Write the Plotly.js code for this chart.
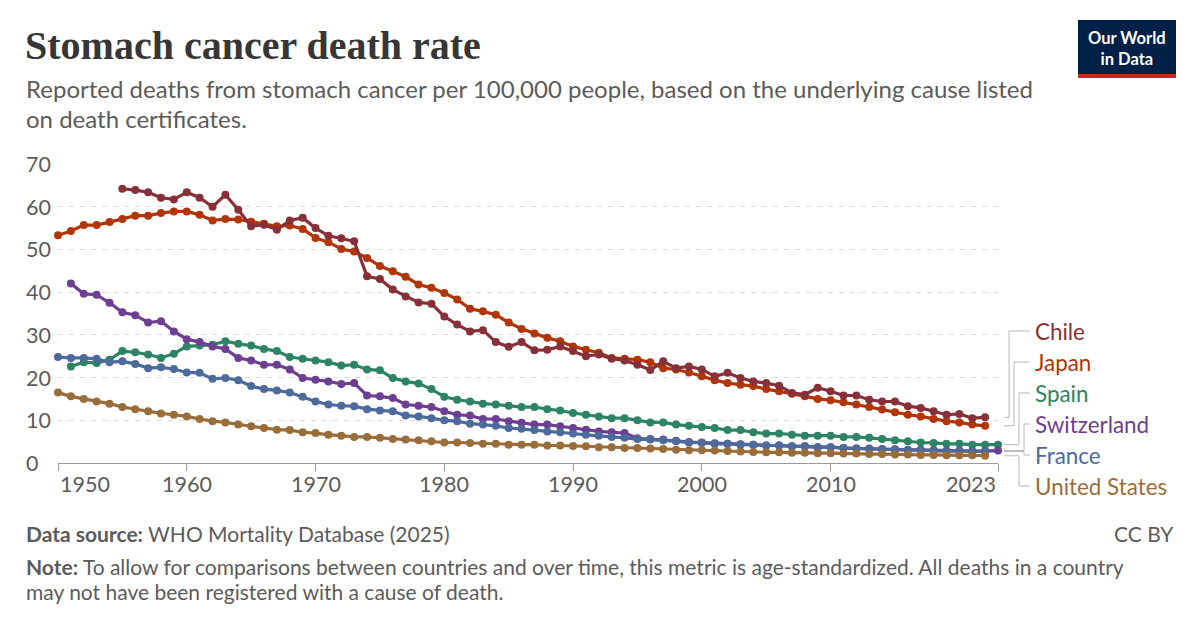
<!DOCTYPE html>
<html><head><meta charset="utf-8">
<script src="https://cdn.plot.ly/plotly-3.0.1.min.js"></script>
<style>html,body{margin:0;padding:0;background:#fff}#chart{width:1200px;height:627px}</style>
</head><body><div id="chart"></div>
<script>
// ---- data (deaths per 100,000, age-standardized) ----
const chileYears = Array.from({length: 68}, (_, i) => 1955 + i); // 1955-2022
const chile = [64.2,63.9,63.4,62.1,61.7,63.4,62.1,60.0,62.8,59.3,55.4,55.8,54.6,56.8,57.4,55.0,53.2,52.6,51.9,43.7,43.1,40.6,39.0,37.6,37.3,34.3,32.4,30.8,31.1,28.3,27.2,28.3,26.4,26.5,27.3,26.2,25.0,25.4,24.4,24.0,23.0,21.8,23.8,22.2,22.6,21.9,20.3,21.1,19.9,19.1,18.7,18.1,16.4,16.0,17.6,16.8,15.8,15.8,14.8,14.4,14.4,13.3,12.9,12.1,11.3,11.5,10.5,10.7];
const japanYears = Array.from({length: 73}, (_, i) => 1950 + i); // 1950-2022
const japan = [53.3,54.3,55.7,55.7,56.4,57.1,57.9,57.9,58.5,58.9,58.9,58.1,56.8,57.1,57.0,56.5,56.0,55.4,55.6,54.8,52.7,51.7,50.1,49.5,48.0,46.1,44.9,43.6,41.8,41.0,39.8,38.3,36.1,35.5,34.7,32.9,31.4,30.3,29.3,28.5,27.3,26.5,25.8,24.6,24.4,24.2,23.6,22.2,21.9,21.2,20.3,19.4,18.7,18.3,18.0,17.3,16.8,16.2,15.6,15.0,14.7,14.2,13.7,13.1,12.5,11.9,11.3,10.9,10.3,9.8,9.5,9.0,8.7];
const spainYears = Array.from({length: 73}, (_, i) => 1951 + i); // 1951-2023
const spain = [22.6,23.6,23.4,24.2,26.2,25.9,25.4,24.6,25.6,27.3,27.5,27.7,28.5,27.9,27.5,26.7,26.2,24.8,24.4,24.0,23.6,22.8,23.0,21.9,21.7,19.9,19.1,18.6,17.3,15.5,14.8,14.4,13.9,13.7,13.4,13.1,13.1,12.6,12.3,11.7,11.3,10.9,10.5,10.5,10.0,9.5,9.5,9.0,8.7,8.4,8.2,7.7,7.7,7.2,6.9,6.9,6.6,6.4,6.4,6.4,6.1,6.1,5.9,5.6,5.3,5.1,4.8,4.7,4.5,4.5,4.3,4.3,4.3];
const switzerlandYears = Array.from({length: 73}, (_, i) => 1951 + i); // 1951-2023
const switzerland = [42.0,39.6,39.4,37.5,35.3,34.6,32.9,33.2,30.8,29.0,28.3,27.3,26.7,24.6,24.0,23.0,23.0,21.9,19.9,19.5,19.1,18.5,18.7,15.8,15.6,15.2,13.7,13.4,13.1,12.1,11.3,11.1,10.3,10.3,9.8,9.4,9.0,9.0,8.6,8.2,7.8,7.4,7.2,7.0,5.8,5.6,5.5,5.2,4.9,4.8,4.6,4.5,4.4,4.3,4.1,4.1,3.9,3.9,3.7,3.7,3.5,3.4,3.4,3.3,3.2,3.1,3.1,3.0,2.9,2.9,2.8,2.8,2.9];
const franceYears = Array.from({length: 73}, (_, i) => 1950 + i); // 1950-2022
const france = [24.8,24.6,24.6,24.4,23.6,23.8,23.2,22.2,22.4,22.0,21.2,21.1,19.7,19.9,19.4,18.0,17.3,17.0,16.5,15.5,14.4,13.7,13.4,13.3,12.6,12.3,12.1,11.1,10.9,10.5,10.0,9.8,9.2,9.0,8.7,8.2,8.0,7.7,7.4,7.2,6.9,6.6,6.4,6.1,5.9,5.6,5.5,5.3,5.1,4.8,4.7,4.5,4.5,4.3,4.3,4.1,4.1,3.9,3.9,3.7,3.7,3.5,3.4,3.3,3.2,3.1,3.0,3.0,2.9,2.8,2.8,2.7,2.7];
const usYears = Array.from({length: 73}, (_, i) => 1950 + i); // 1950-2022
const unitedStates = [16.5,15.6,15.0,14.4,13.9,13.1,12.6,12.1,11.6,11.3,10.9,10.3,9.8,9.5,9.0,8.6,8.2,7.8,7.7,7.2,7.0,6.6,6.4,6.1,6.1,5.9,5.6,5.5,5.3,5.1,4.8,4.8,4.7,4.5,4.5,4.3,4.3,4.3,4.1,4.1,4.0,3.9,3.7,3.7,3.5,3.5,3.4,3.3,3.1,3.0,3.0,2.9,2.8,2.7,2.6,2.5,2.5,2.4,2.4,2.3,2.3,2.2,2.2,2.1,2.1,2.0,2.0,1.9,1.9,1.8,1.8,1.8,1.7];

const countryNames = ["Japan","Chile","Spain","Switzerland","France","United States"];
const xTicks = [1950,1960,1970,1980,1990,2000,2010,2023];
const yTicks = [0,10,20,30,40,50,60,70];

// ---- styling ----
const colors = {"Chile":"#883039","Japan":"#B13507","Spain":"#2C8465","Switzerland":"#6D3E91","France":"#4C6A9C","United States":"#996D39"};
const series = {
  "Chile":[chileYears,chile], "Japan":[japanYears,japan], "Spain":[spainYears,spain],
  "Switzerland":[switzerlandYears,switzerland], "France":[franceYears,france], "United States":[usYears,unitedStates]
};
const W=1200,H=627, L=58, R=998, T=164, B=463;
const px2x = p => (p-L)/(R-L);
const px2y = p => (B-p)/(B-T);
const yMax = 70;
const gray = "#5b5b5b";

const traces = countryNames.map(n => ({
  type:"scatter", mode:"lines+markers", name:n,
  x: series[n][0], y: series[n][1],
  line:{color:colors[n], width:3.2},
  marker:{color:colors[n], size:8},
  cliponaxis:false, showlegend:false, hoverinfo:"skip"
}));

const ann = [];
const shapes = [];
const subSize = 24, tickSize = 21.5, labSize = 22.4, footSize = 21;
// subtitle
ann.push({xref:"paper",yref:"paper",x:px2x(24),y:px2y(89),xanchor:"left",yanchor:"middle",showarrow:false,
  text:"Reported deaths from stomach cancer per 100,000 people, based on the underlying cause listed",font:{family:"Lato",size:subSize,color:gray}});
ann.push({xref:"paper",yref:"paper",x:px2x(24),y:px2y(118),xanchor:"left",yanchor:"middle",showarrow:false,
  text:"on death certificates.",font:{family:"Lato",size:subSize,color:gray}});
// y tick labels
yTicks.forEach(v => ann.push({xref:"paper",yref:"y",x:px2x(24),y:v,xanchor:"left",yanchor:"middle",showarrow:false,
  text:String(v),font:{family:"Lato",size:tickSize,color:gray}}));
// x tick labels
xTicks.forEach((v,i) => ann.push({xref:"x",yref:"paper",x:v,y:px2y(484),
  xanchor: i===0?"left":(i===xTicks.length-1?"right":"center"),yanchor:"middle",showarrow:false,
  text:String(v),font:{family:"Lato",size:tickSize,color:gray}}));
// end labels with connectors
const labelOrder = ["Chile","Japan","Spain","Switzerland","France","United States"];
const labelY = [331,362,393,424,455,486];
const elbowX = [1009,1014,1019,1024,1024,1019];
labelOrder.forEach((n,i) => {
  ann.push({xref:"paper",yref:"paper",x:px2x(1033),y:px2y(labelY[i]),xanchor:"left",yanchor:"middle",showarrow:false,
    text:n,font:{family:"Lato",size:labSize,color:colors[n]}});
  const vals = series[n][1];
  const endV = vals[vals.length-1];
  const y0 = endV/yMax; // data value mapped through the linear 0-70 y scale
  const y1 = px2y(labelY[i]);
  shapes.push({type:"path",xref:"paper",yref:"paper",
    path:`M ${px2x(1004)} ${y0} L ${px2x(elbowX[i])} ${y0} L ${px2x(elbowX[i])} ${y1} L ${px2x(1030)} ${y1}`,
    line:{color:"#b8b8b8",width:1}});
});
// footer
ann.push({xref:"paper",yref:"paper",x:px2x(24),y:px2y(533),xanchor:"left",yanchor:"middle",showarrow:false,
  text:"<b>Data source:</b> WHO Mortality Database (2025)",font:{family:"Lato",size:footSize,color:gray}});
ann.push({xref:"paper",yref:"paper",x:px2x(1176),y:px2y(533),xanchor:"right",yanchor:"middle",showarrow:false,
  text:"CC BY",font:{family:"Lato",size:footSize,color:gray}});
ann.push({xref:"paper",yref:"paper",x:px2x(24),y:px2y(566),xanchor:"left",yanchor:"middle",showarrow:false,
  text:"<b>Note:</b> To allow for comparisons between countries and over time, this metric is age-standardized. All deaths in a country",font:{family:"Lato",size:footSize,color:gray}});
ann.push({xref:"paper",yref:"paper",x:px2x(24),y:px2y(591),xanchor:"left",yanchor:"middle",showarrow:false,
  text:"may not have been registered with a cause of death.",font:{family:"Lato",size:footSize,color:gray}});
// logo
shapes.push({type:"rect",xref:"paper",yref:"paper",x0:px2x(1078),x1:px2x(1176),y0:px2y(20),y1:px2y(78),fillcolor:"#002147",line:{width:0}});
shapes.push({type:"rect",xref:"paper",yref:"paper",x0:px2x(1078),x1:px2x(1176),y0:px2y(74),y1:px2y(78),fillcolor:"#ce261e",line:{width:0}});
ann.push({xref:"paper",yref:"paper",x:px2x(1127),y:px2y(48),xanchor:"center",yanchor:"middle",showarrow:false,
  text:"<b>Our World</b><br><b>in Data</b>",font:{family:"Lato",size:16.5,color:"#ffffff"}});

const layout = {
  width:W,height:H,
  margin:{l:L,r:W-R,t:T,b:H-B,pad:0},
  paper_bgcolor:"#fff",plot_bgcolor:"#fff",
  title:{text:"<b>Stomach cancer death rate</b>",xref:"container",yref:"container",x:25/W,y:1-45/H,xanchor:"left",yanchor:"middle",
    font:{family:"Liberation Serif",size:40,color:"#363636"}},
  xaxis:{range:[1950,2023],tickvals:xTicks,showticklabels:false,ticks:"outside",ticklen:7,tickcolor:"#999",tickwidth:1,
    showgrid:false,zeroline:false,showline:true,linecolor:"#999",linewidth:1},
  yaxis:{range:[0,yMax],tickvals:yTicks,showticklabels:false,ticks:"",showgrid:true,gridcolor:"#dddddd",griddash:"5px,6px",gridwidth:1,
    zeroline:false,showline:false},
  annotations:ann, shapes:shapes, hovermode:false
};
Plotly.newPlot("chart",traces,layout,{staticPlot:true,displayModeBar:false});
</script></body></html>
